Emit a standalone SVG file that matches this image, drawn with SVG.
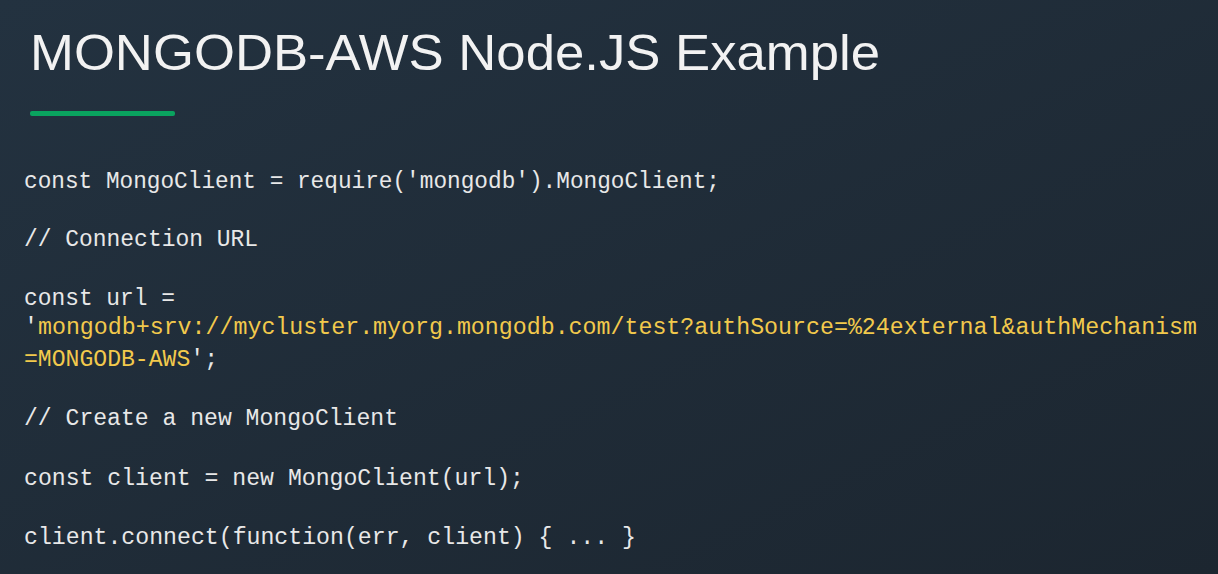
<svg xmlns="http://www.w3.org/2000/svg" width="1218" height="574" viewBox="0 0 1218 574">
<defs>
<linearGradient id="bg" x1="0" y1="0" x2="1" y2="1">
<stop offset="0" stop-color="#233240"/><stop offset="1" stop-color="#1c2630"/>
</linearGradient>
<style>
.t{font-family:"Liberation Sans","DejaVu Sans",sans-serif;font-size:50px;fill:#f2f2f2;font-weight:300}
.c{font-family:"Liberation Mono","DejaVu Sans Mono",monospace;font-size:23px;fill:#e8e8e8}
.y{fill:#f2c94c}
</style>
</defs>
<rect width="1218" height="574" fill="url(#bg)"/>
<g id="title">
<text class="t" x="30" y="70" textLength="850" lengthAdjust="spacingAndGlyphs">MONGODB-AWS Node.JS Example</text>
<rect x="30" y="111" width="145" height="5" rx="2" fill="#0aa35f"/>
</g>
<g id="code">
<text class="c" x="24" y="188" textLength="696" lengthAdjust="spacingAndGlyphs">const MongoClient = require('mongodb').MongoClient;</text>
<text class="c" x="24" y="246" textLength="234" lengthAdjust="spacingAndGlyphs">// Connection URL</text>
<text class="c" x="24" y="305" textLength="151" lengthAdjust="spacingAndGlyphs">const url =</text>
<text class="c" x="24" y="334" textLength="1173" lengthAdjust="spacingAndGlyphs">'<tspan class="y">mongodb+srv://mycluster.myorg.mongodb.com/test?authSource=%24external&amp;authMechanism</tspan></text>
<text class="c" x="24" y="366" textLength="194" lengthAdjust="spacingAndGlyphs"><tspan class="y">=MONGODB-AWS</tspan>';</text>
<text class="c" x="24" y="425" textLength="374" lengthAdjust="spacingAndGlyphs">// Create a new MongoClient</text>
<text class="c" x="24" y="485" textLength="500" lengthAdjust="spacingAndGlyphs">const client = new MongoClient(url);</text>
<text class="c" x="24" y="544" textLength="612" lengthAdjust="spacingAndGlyphs">client.connect(function(err, client) { ... }</text>
</g>
</svg>
